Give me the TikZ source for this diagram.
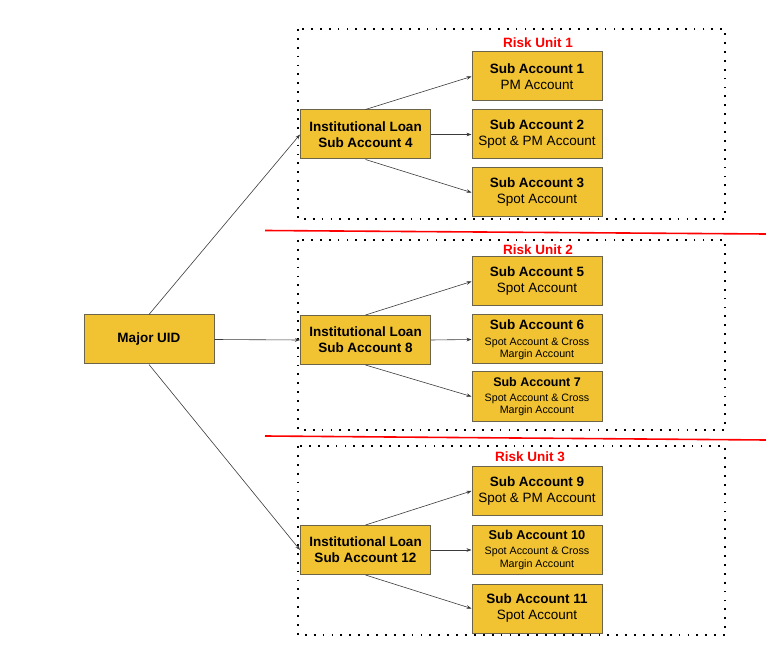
\documentclass[tikz,border=0pt]{standalone}
\usepackage{fontspec}
\setmainfont{Liberation Sans}
\usetikzlibrary{arrows.meta}
\definecolor{gold}{HTML}{F1C232}
\definecolor{boxedge}{HTML}{6B6448}
\definecolor{wire}{HTML}{3A3A3A}
\definecolor{riskred}{HTML}{FF0000}
\begin{document}
\begin{tikzpicture}[x=1pt,y=-1pt,
  acct/.style={rectangle,fill=gold,draw=boxedge,line width=1pt,minimum width=130pt,minimum height=49pt,align=center,inner sep=1pt,font=\fontsize{13.5}{16}\selectfont},
  acctsm/.style={acct,font=\fontsize{10.7}{12.3}\selectfont},
  unitbox/.style={draw=black,line width=1.8pt,dash pattern=on 1.8pt off 7.1pt},
  conn/.style={draw=wire,line width=0.6pt,-{Stealth[length=5pt,width=3.6pt]}},
  redline/.style={draw=riskred,line width=1.6pt},
  unitlabel/.style={text=riskred,font=\fontsize{13.5}{16}\selectfont\bfseries,inner sep=0pt}]
\useasboundingbox (0,0) rectangle (766,660);

% risk unit frames
\draw[unitbox] (298,29) rectangle (725,219);
\draw[unitbox] (298,240) rectangle (725,430);
\draw[unitbox] (298,446) rectangle (725,635);

\node[unitlabel] (ru1) at (538,43) {Risk Unit 1};
\node[unitlabel] (ru2) at (538,250) {Risk Unit 2};
\node[unitlabel] (ru3) at (530,457) {Risk Unit 3};

\draw[redline] (265,230.5) -- (766,234);
\draw[redline] (265,436) -- (766,440);

% nodes
\node[acct] (major) at (149,339.5) {\textbf{Major UID}};

\node[acct] (il4) at (365.5,134.5) {\textbf{Institutional Loan}\\\textbf{Sub Account 4}};
\node[acct] (s1) at (537,76.5) {\textbf{Sub Account 1}\\PM Account};
\node[acct] (s2) at (537,134.5) {\textbf{Sub Account 2}\\Spot \& PM Account};
\node[acct] (s3) at (537,192.5) {\textbf{Sub Account 3}\\Spot Account};

\node[acct] (il8) at (365.5,340) {\textbf{Institutional Loan}\\\textbf{Sub Account 8}};
\node[acct] (s5) at (537,281.5) {\textbf{Sub Account 5}\\Spot Account};
\node[acctsm] (s6) at (537,339.5) {{\fontsize{13.5}{16}\selectfont\bfseries Sub Account 6}\\[3.5pt]Spot Account \& Cross\\Margin Account};
\node[acctsm] (s7) at (537,396.5) {{\fontsize{12.5}{15}\selectfont\bfseries Sub Account 7}\\[2.5pt]Spot Account \& Cross\\Margin Account};

\node[acct] (il12) at (365.5,550) {\textbf{Institutional Loan}\\\textbf{Sub Account 12}};
\node[acct] (s9) at (537,491) {\textbf{Sub Account 9}\\Spot \& PM Account};
\node[acctsm] (s10) at (537,550) {{\fontsize{12.8}{15}\selectfont\bfseries Sub Account 10}\\[2.5pt]Spot Account \& Cross\\Margin Account};
\node[acct] (s11) at (537,608.5) {\textbf{Sub Account 11}\\Spot Account};

% connectors
\draw[conn] (major.north) -- (il4.west);
\draw[conn] (major.east) -- (il8.west);
\draw[conn] (major.south) -- (il12.west);

\draw[conn] (il4.north) -- (s1.west);
\draw[conn] (il4.east) -- (s2.west);
\draw[conn] (il4.south) -- (s3.west);

\draw[conn] (il8.north) -- (s5.west);
\draw[conn] (il8.east) -- (s6.west);
\draw[conn] (il8.south) -- (s7.west);

\draw[conn] (il12.north) -- (s9.west);
\draw[conn] (il12.east) -- (s10.west);
\draw[conn] (il12.south) -- (s11.west);
\end{tikzpicture}
\end{document}
